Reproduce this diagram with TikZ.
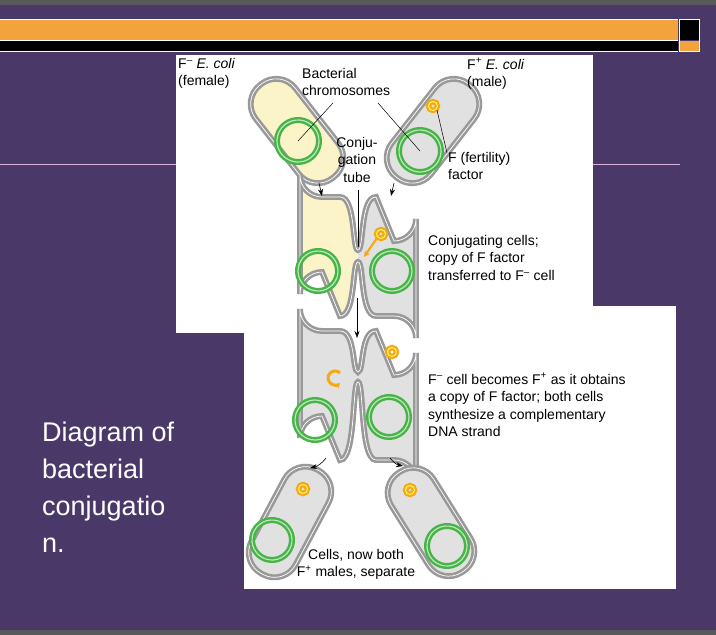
\documentclass[tikz,border=0pt]{standalone}
\usepackage{fontspec}
\setmainfont{Liberation Sans}
\usetikzlibrary{arrows.meta}
\definecolor{bgp}{RGB}{74,56,105}
\definecolor{orn}{RGB}{242,163,60}
\definecolor{cellg}{RGB}{225,225,225}
\definecolor{celly}{RGB}{250,244,200}
\definecolor{chg}{RGB}{70,180,70}
\definecolor{plo}{RGB}{245,170,20}
\tikzset{
 cellbox/.style={draw=gray!80,line width=2.6pt,double=white,double distance=0.7pt,rounded corners=24pt,minimum width=118pt,minimum height=50pt,inner sep=0},
 chrom/.style={draw=chg,line width=2.4pt,double=chg!35,double distance=1.2pt,ellipse,minimum width=40pt,minimum height=17pt,inner sep=0},
 plas/.style={circle,draw=plo,line width=2.2pt,double=yellow!60,double distance=1pt,minimum size=9pt,inner sep=0},
 lbl/.style={font=\fontsize{14}{17.5}\selectfont,align=left,anchor=north west,inner sep=0},
 arr/.style={-{Stealth[length=7pt,width=5pt]},line width=0.6pt},
 ptr/.style={line width=0.5pt},
}
\tikzset{ellipse/.style={shape=circle}}
\begin{document}
\begin{tikzpicture}[x=1pt,y=-1pt]
\useasboundingbox (0,0) rectangle (716,635);
\fill[bgp] (0,0) rectangle (716,635);
\fill[gray!70!black] (0,0) rectangle (716,5);
\fill[gray!70!black] (0,630) rectangle (716,635);
\fill[orn] (0,19) rectangle (678,40);
\fill[black] (0,41) rectangle (678,51);
\draw[white,line width=0.6pt] (0,19) -- (678,19) (0,40.5) -- (678,40.5) (0,51) -- (678,51);
\fill[black] (679,19) rectangle (699,40);
\fill[orn] (679,41) rectangle (699,51);
\draw[white,line width=0.6pt] (679,19) rectangle (699,51);
\draw[violet!30,line width=0.8pt] (0,164) -- (680,164);
% white panels
\fill[white] (176,55) rectangle (593,333);
\fill[white] (244,306) rectangle (676,589);
% left text
\node[text=white,font=\fontsize{27}{37}\selectfont,align=left,anchor=north west,inner sep=0] (title) at (42,422) {Diagram of\\bacterial\\conjugatio\\n.};
% top cells
\node[cellbox,fill=celly,rotate=-52] (c1) at (297,131) {};
\node[cellbox,fill=cellg,rotate=52] (c2) at (433,131) {};
\node[chrom,rotate=62,minimum width=42pt,minimum height=18pt] (ch1) at (298,141) {};
\node[chrom,rotate=62,minimum width=42pt,minimum height=18pt] (ch2) at (420,151) {};
\node[plas] (p1) at (433,106) {};
% middle pair
\def\pairpath#1#2#3#4{(358,#3) .. controls (352,#3) and (356,#1) .. (340,#1) -- (322,#1) arc[start angle=90,end angle=180,radius=22] -- (300,#2-22) arc[start angle=180,end angle=270,radius=22] -- (340,#2) .. controls (356,#2) and (352,#4) .. (358,#4) .. controls (364,#4) and (360,#2) .. (376,#2) -- (394,#2) arc[start angle=270,end angle=360,radius=22] -- (416,#1+22) arc[start angle=0,end angle=90,radius=22] -- (376,#1) .. controls (360,#1) and (364,#3) .. (358,#3) -- cycle}
\begin{scope}
\clip \pairpath{197}{316}{250}{262};
\fill[celly] (290,190) rectangle (358,320);
\fill[cellg] (358,190) rectangle (420,320);
\end{scope}
\draw[draw=gray!80,line width=2.6pt,double=white,double distance=0.7pt] \pairpath{197}{316}{250}{262};
\node[chrom,rotate=82] (ch3) at (318,271) {};
\node[chrom,rotate=66] (ch4) at (392,271) {};
\node[plas] (p2) at (381,234) {};
\coordinate (p2t) at (364,257);
\draw[plo,line width=2.2pt,-{Stealth[length=6pt,width=6pt]}] (p2.south west) -- (p2t);
% bottom pair
\fill[cellg] \pairpath{331}{460}{372}{382};
\draw[draw=gray!80,line width=2.6pt,double=white,double distance=0.7pt] \pairpath{331}{460}{372}{382};
\node[chrom,rotate=82] (ch5) at (315,420) {};
\node[chrom,rotate=66] (ch6) at (389,417) {};
\node[plas] (p3) at (392,352) {};
\coordinate (cc) at (335,378);
\draw[plo,line width=3pt,-{Stealth[length=5pt,width=6pt]}] ([shift={(5,-5)}]cc) arc[start angle=-45,end angle=-315,radius=7];
% bottom cells
\node[cellbox,fill=cellg,rotate=62] (c5) at (290,522) {};
\node[cellbox,fill=cellg,rotate=-58] (c6) at (431,522) {};
\node[chrom,rotate=84] (ch7) at (272,540) {};
\node[chrom,rotate=95] (ch8) at (447,546) {};
\node[plas] (p4) at (303,489) {};
\node[plas] (p5) at (410,490) {};
% labels
\node[lbl] (l1) at (178,58) {F\textsuperscript{–} \textit{E. coli}\\(female)};
\node[lbl] (l2) at (467,58) {F\textsuperscript{+} \textit{E. coli}\\(male)};
\node[lbl] (l3) at (302,68) {Bacterial\\chromosomes};
\node[font=\fontsize{14}{17.5}\selectfont,align=center,inner sep=0,anchor=north] (l4) at (357,137) {Conju-\\gation\\tube};
\node[lbl] (l5) at (448,152) {F (fertility)\\factor};
\node[lbl] (l6) at (428,235) {Conjugating cells;\\copy of F factor\\transferred to F\textsuperscript{–} cell};
\node[lbl] (l7) at (428,373) {F\textsuperscript{–} cell becomes F\textsuperscript{+} as it obtains\\a copy of F factor; both cells\\synthesize a complementary\\DNA strand};
\node[font=\fontsize{14}{17.5}\selectfont,align=center,inner sep=0,anchor=north] (l8) at (356,549) {Cells, now both\\F\textsuperscript{+} males, separate};
% pointers
\coordinate (a1) at (333,103); \coordinate (a2) at (378,103);
\draw[ptr] (a1) -- (ch1.center);
\draw[ptr] (a2) -- (ch2.center);
\coordinate (t1) at (358,190); \coordinate (t2) at (358,247);
\draw[ptr] (t1) -- (t2);
\coordinate (f1) at (447,153);
\draw[ptr] (p1.south east) -- (f1);
% arrows
\coordinate (ar1) at (319,183); \coordinate (ar2) at (322,196);
\coordinate (ar3) at (394,183); \coordinate (ar4) at (391,196);
\draw[arr] (ar1) -- (ar2);
\draw[arr] (ar3) -- (ar4);
\coordinate (m1) at (357,298); \coordinate (m2) at (357,338);
\draw[arr] (m1) -- (m2);
\coordinate (b1) at (326,458); \coordinate (b2) at (310,468);
\coordinate (b3) at (390,458); \coordinate (b4) at (403,466);
\draw[arr] (b1) to[bend left=20] (b2);
\draw[arr] (b3) to[bend right=20] (b4);
\end{tikzpicture}
\end{document}
